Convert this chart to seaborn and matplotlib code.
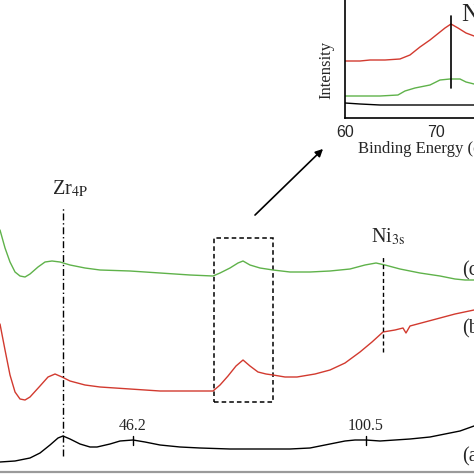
import numpy as np
import pandas as pd
import matplotlib
matplotlib.use('Agg')
import matplotlib.pyplot as plt
from matplotlib.patches import Rectangle
import seaborn as sns

# main spectra (binding energy in eV, intensity in arb. units)
energy_c = [13.25, 14.46, 15.66, 16.87, 18.07, 19.28, 20.48, 22.41, 24.10, 25.78, 27.71, 30.12,
            33.73, 37.35, 44.58, 51.81, 59.04, 64.58, 66.27, 68.67, 70.60, 71.81, 73.49, 75.90,
            79.04, 83.13, 87.95, 92.77, 97.59, 101.20, 103.86, 106.02, 109.64, 114.46, 119.28,
            122.89, 125.30, 127.47]
intensity_c = [24.2, 22.4, 21.0, 20.0, 19.6, 19.5, 19.8, 20.5, 21.0, 21.1, 21.0, 20.7,
               20.4, 20.2, 20.1, 19.9, 19.7, 19.6, 19.9, 20.4, 20.9, 21.1, 20.7, 20.4,
               20.2, 20.0, 20.0, 20.1, 20.3, 20.7, 20.9, 20.7, 20.3, 19.9, 19.6,
               19.3, 19.2, 19.2]

energy_b = [13.25, 14.46, 15.66, 16.87, 18.07, 19.28, 20.48, 22.89, 24.82, 26.51, 28.19, 30.12,
            33.73, 37.35, 44.58, 51.81, 59.04, 64.58, 66.27, 68.19, 70.12, 71.81, 73.49, 75.42,
            77.35, 79.04, 81.93, 84.82, 89.16, 92.77, 96.39, 100.00, 102.89, 105.54, 108.43,
            110.36, 111.08, 112.05, 115.66, 119.28, 122.89, 127.47]
intensity_b = [14.8, 12.2, 9.7, 8.0, 7.3, 7.2, 7.5, 8.6, 9.5, 9.8, 9.5, 9.1,
               8.7, 8.5, 8.3, 8.1, 8.1, 8.1, 8.7, 9.6, 10.6, 11.2, 10.6, 10.0,
               9.8, 9.7, 9.5, 9.5, 9.8, 10.2, 10.9, 12.0, 13.0, 14.0, 14.2,
               14.4, 13.9, 14.6, 15.0, 15.4, 15.8, 16.2]

energy_a = [13.25, 16.87, 20.48, 22.89, 25.30, 27.23, 28.43, 30.12, 32.53, 34.94, 36.63, 39.76,
            42.17, 45.30, 48.19, 51.81, 56.63, 61.45, 68.67, 75.90, 83.13, 87.95, 92.77, 96.39,
            98.80, 101.45, 104.82, 108.43, 112.05, 116.87, 120.48, 124.10, 127.47]
intensity_a = [1.0, 1.1, 1.4, 1.9, 2.7, 3.4, 3.6, 3.3, 2.8, 2.5, 2.5, 2.8,
               3.1, 3.2, 3.0, 2.7, 2.5, 2.4, 2.3, 2.3, 2.3, 2.4, 2.8, 3.1,
               3.2, 3.2, 3.1, 3.2, 3.3, 3.5, 3.8, 4.1, 4.6]

# inset (Ni 3p region)
inset_energy_b = [60.0, 61.65, 62.75, 64.40, 66.04, 67.14, 68.24, 69.34, 70.44, 70.99, 71.65,
                  72.42, 73.30, 74.18]
inset_int_b = [5.7, 5.7, 5.8, 5.8, 5.9, 6.3, 7.1, 7.8, 8.6, 9.0, 9.4, 9.0, 8.5, 8.2]
inset_energy_c = [60.0, 62.2, 63.85, 65.82, 66.59, 67.69, 69.34, 70.44, 71.54, 72.64, 73.30, 74.18]
inset_int_c = [2.2, 2.2, 2.2, 2.3, 2.7, 3.0, 3.3, 3.8, 3.9, 3.9, 3.6, 3.4]
inset_energy_a = [60.0, 61.65, 63.85, 74.5]
inset_int_a = [1.5, 1.4, 1.3, 1.3]

peak_pos = [45.3, 101.45]
peak_int = [3.2, 3.2]
peak_labels = ['46.2', '100.5']
series_labels = ['(c)', '(b)', '(a)']
series_label_y = [20.1, 14.3, 1.5]

green = '#5fb24a'
red = '#d23a2f'

sns.set_style('white')
plt.rcParams['font.family'] = ['Liberation Serif', 'DejaVu Serif']
plt.rcParams['mathtext.fontset'] = 'stix'

fig = plt.figure(figsize=(4.74, 4.74), dpi=100)
ax = fig.add_axes([0, 2 / 474, 1, 472 / 474])

sns.lineplot(x=energy_c, y=intensity_c, color=green, lw=1.0, sort=False, ax=ax)
sns.lineplot(x=energy_b, y=intensity_b, color=red, lw=1.0, sort=False, ax=ax)
sns.lineplot(x=energy_a, y=intensity_a, color='black', lw=1.0, sort=False, ax=ax)

ax.set_xlim(13.25, 127.47)
ax.set_ylim(0, 47.2)
for s in ['left', 'right', 'top']:
    ax.spines[s].set_visible(False)
ax.spines['bottom'].set_color('#9a9a9a')
ax.spines['bottom'].set_linewidth(1.6)
ax.set_xticks([20, 40, 60, 80, 100, 120])
ax.set_xticks([30, 50, 70, 90, 110], minor=True)
ax.tick_params(axis='x', which='major', direction='in', length=7, width=1, color='#333333',
               labelbottom=False)
ax.tick_params(axis='x', which='minor', direction='in', length=4, width=1, color='#333333',
               labelbottom=False)
ax.set_yticks([])
ax.set_xlabel('')
ax.set_ylabel('')

# reference lines
ax.plot([28.43, 28.43], [1.6, 26.6], color='black', lw=1.0, ls=(0, (5, 2, 1, 2)))
ax.plot([105.54, 105.54], [12.0, 21.7], color='black', lw=1.0, ls=(0, (3, 2)))
ax.text(25.8, 27.8, r'Zr$_{\mathrm{4P}}$', fontsize=14.5, ha='left', va='baseline')
ax.text(102.6, 23.0, r'Ni$_{\mathrm{3s}}$', fontsize=14.5, ha='left', va='baseline')

for p, v, lab in zip(peak_pos, peak_int, peak_labels):
    ax.plot([p, p], [v - 0.45, v + 0.45], color='black', lw=1.0)
    ax.text(p, v + 0.6, lab, fontsize=11.5, ha='center', va='bottom')

for lab, yy in zip(series_labels, series_label_y):
    ax.text(124.6, yy, lab, fontsize=14.5, ha='left', va='center')

ax.add_patch(Rectangle((64.82, 7.0), 79.04 - 64.82, 23.4 - 7.0, fill=False,
                       ec='black', lw=1.1, ls=(0, (3, 2))))

# arrow pointing to inset
fig.add_artist(matplotlib.patches.FancyArrowPatch(
    (253 / 474, 1 - 217 / 474), (325 / 474, 1 - 147 / 474), transform=fig.transFigure,
    arrowstyle='-|>', mutation_scale=11, color='black', lw=1.2))

# inset
axi = fig.add_axes([345 / 474, (474 - 118) / 474, 215 / 474, 138 / 474])
sns.lineplot(x=inset_energy_b, y=inset_int_b, color=red, lw=1.0, sort=False, ax=axi)
sns.lineplot(x=inset_energy_c, y=inset_int_c, color=green, lw=1.0, sort=False, ax=axi)
sns.lineplot(x=inset_energy_a, y=inset_int_a, color='black', lw=1.0, sort=False, ax=axi)
axi.plot([71.65, 71.65], [3.0, 10.2], color='black', lw=1.2)
axi.text(72.75, 9.6, r'Ni$_{\mathrm{3p}}$', fontsize=18, ha='left', va='baseline')
axi.set_xlim(60, 83.63)
axi.set_ylim(0, 13.8)
axi.set_xticks([60, 70, 80])
axi.set_yticks([])
axi.tick_params(axis='x', length=0, pad=5, labelsize=11.5)
for t in axi.get_xticklabels():
    t.set_fontfamily(['Liberation Sans', 'DejaVu Sans'])
for s in ['right', 'top']:
    axi.spines[s].set_visible(False)
for s in ['left', 'bottom']:
    axi.spines[s].set_color('black')
    axi.spines[s].set_linewidth(1.2)
axi.set_xlabel('Binding Energy (eV)', fontsize=12)
axi.xaxis.set_label_coords(0.385, -0.17)
axi.set_ylabel('Intensity', fontsize=12)
axi.yaxis.set_label_coords(-0.05, 0.35)

fig.savefig('out.png', dpi=100)
